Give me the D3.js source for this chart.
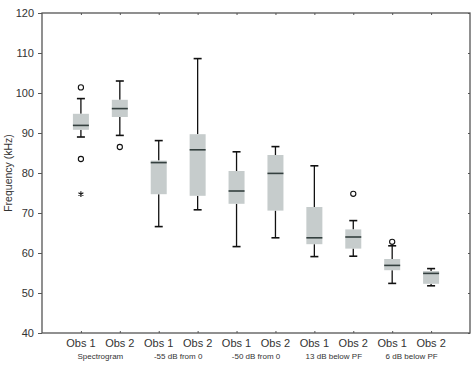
<!DOCTYPE html>
<html><head><meta charset="utf-8">
<script src="https://cdn.jsdelivr.net/npm/d3@7"></script>
<style>body{margin:0;background:#fff}svg{display:block;font-family:"Liberation Sans",Arial,sans-serif}</style>
</head><body><svg id="c" width="474" height="365"></svg>
<script>
const categories = ["Obs 1","Obs 2","Obs 1","Obs 2","Obs 1","Obs 2","Obs 1","Obs 2","Obs 1","Obs 2"];
const groups = ["Spectrogram","-55 dB from 0","-50 dB from 0","13 dB below PF","6 dB below PF"];
const whiskerLow  = [89.0, 89.4, 66.6, 70.8, 61.6, 63.8, 59.1, 59.2, 52.4, 51.8];
const q1          = [90.8, 94.0, 74.7, 74.3, 72.3, 70.6, 62.2, 61.1, 55.7, 52.3];
const median      = [91.9, 96.1, 82.6, 85.8, 75.5, 79.9, 63.8, 64.0, 56.9, 54.9];
const q3          = [94.8, 98.3, 83.1, 89.7, 80.5, 84.5, 71.5, 65.9, 58.5, 55.5];
const whiskerHigh = [98.6, 103.0, 88.1, 108.6, 85.3, 86.6, 81.8, 68.1, 61.8, 56.1];
const outliers = [[101.4, 83.5], [86.5], [], [], [], [], [], [74.8], [62.8], []];
const extremes = [[74.7], [], [], [], [], [], [], [], [], []];
const yTicks = [40,50,60,70,80,90,100,110,120];

const svg = d3.select("#c");
const L=42, R=470, T=13, B=333;
const idx = d3.range(categories.length);
const x = d3.scalePoint().domain(idx).range([L,R]).padding(1);
const y = d3.scaleLinear().domain([40,120]).range([B,T]);
const bw = 16, cw = 8;
const frame="#555";

// frame
svg.append("rect").attr("x",L).attr("y",T).attr("width",R-L).attr("height",B-T)
  .attr("fill","none").attr("stroke",frame).attr("stroke-width",1.3);

// left axis
const ya = svg.append("g").attr("transform",`translate(${L},0)`)
  .call(d3.axisLeft(y).tickValues(yTicks).tickSize(4).tickPadding(4));
ya.select(".domain").remove();
ya.selectAll("line").attr("stroke",frame);
ya.selectAll("text").attr("font-size",11).attr("fill","#333");
// right ticks
const yr = svg.append("g").attr("transform",`translate(${R},0)`)
  .call(d3.axisLeft(y).tickValues(yTicks).tickSize(2).tickFormat(""));
yr.select(".domain").remove(); yr.selectAll("line").attr("stroke",frame);
// bottom ticks (inward)
const xb = svg.append("g").attr("transform",`translate(0,${B})`)
  .call(d3.axisTop(x).tickSize(2).tickFormat(""));
xb.select(".domain").remove(); xb.selectAll("line").attr("stroke",frame);
const xt = svg.append("g").attr("transform",`translate(0,${T})`)
  .call(d3.axisBottom(x).tickSize(2).tickFormat(""));
xt.select(".domain").remove(); xt.selectAll("line").attr("stroke",frame);

// category labels
svg.append("g").selectAll("text").data(idx).join("text")
  .attr("x",d=>x(d)).attr("y",347).attr("text-anchor","middle")
  .attr("font-size",11).attr("fill","#333").text(d=>categories[d]);
svg.append("g").selectAll("text").data(groups).join("text")
  .attr("x",(d,i)=>(x(2*i)+x(2*i+1))/2).attr("y",359).attr("text-anchor","middle")
  .attr("font-size",8).attr("fill","#333").text(d=>d);

// y label
svg.append("text").attr("transform",`translate(12,${(T+B)/2}) rotate(-90)`)
  .attr("text-anchor","middle").attr("font-size",10.5).attr("fill","#333").text("Frequency (kHz)");

// boxes
const g = svg.append("g");
idx.forEach(i=>{
  const cx = x(i);
  const gg = g.append("g");
  gg.append("line").attr("x1",cx).attr("x2",cx).attr("y1",y(q3[i])).attr("y2",y(whiskerHigh[i])).attr("stroke","#111").attr("stroke-width",1.3);
  gg.append("line").attr("x1",cx).attr("x2",cx).attr("y1",y(q1[i])).attr("y2",y(whiskerLow[i])).attr("stroke","#111").attr("stroke-width",1.3);
  [whiskerHigh[i],whiskerLow[i]].forEach(v=>gg.append("line").attr("x1",cx-cw/2).attr("x2",cx+cw/2).attr("y1",y(v)).attr("y2",y(v)).attr("stroke","#111").attr("stroke-width",1.6));
  gg.append("rect").attr("x",cx-bw/2).attr("width",bw).attr("y",y(q3[i])).attr("height",y(q1[i])-y(q3[i])).attr("fill","#c6cccc");
  gg.append("line").attr("x1",cx-bw/2).attr("x2",cx+bw/2).attr("y1",y(median[i])).attr("y2",y(median[i])).attr("stroke","#34403f").attr("stroke-width",1.6);
  outliers[i].forEach(v=>gg.append("circle").attr("cx",cx).attr("cy",y(v)).attr("r",2.6).attr("fill","#fff").attr("stroke","#111").attr("stroke-width",1.1));
  extremes[i].forEach(v=>gg.append("path").attr("d",d3.symbol(d3.symbolAsterisk,22)()).attr("transform",`translate(${cx},${y(v)})`).attr("fill","none").attr("stroke","#111").attr("stroke-width",1.1));
});
</script></body></html>
